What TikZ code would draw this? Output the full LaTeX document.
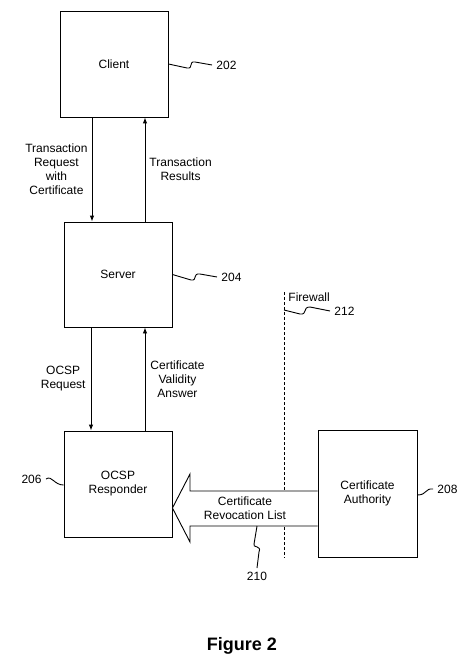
\documentclass[tikz,border=0pt]{standalone}
\usepackage{fontspec}
\setmainfont{Liberation Sans}
\usetikzlibrary{arrows.meta}
\begin{document}
\begin{tikzpicture}[x=1pt,y=-1pt,line width=.9pt,
    blk/.style={draw,rectangle,inner sep=0pt,align=center,
        font=\fontsize{12}{14}\selectfont},
    txt/.style={align=center,inner sep=0pt,
        font=\fontsize{12}{14}\selectfont},
    num/.style={txt,inner sep=4pt},
    flow/.style={-{Latex[length=6pt,width=4.5pt]}}]
    \useasboundingbox (0,0) rectangle (474,668);

    \node[blk,minimum width=108pt,minimum height=106pt] (client) at (114,64) {Client};
    \node[blk,minimum width=108pt,minimum height=105pt] (server) at (118,274.5) {Server};
    \node[blk,minimum width=108pt,minimum height=106pt] (ocsp) at (118,484) {OCSP\\Responder};
    \node[blk,minimum width=99pt,minimum height=127pt] (ca) at (367.5,493.5) {Certificate\\Authority};

    \draw[flow] ([xshift=-22pt]client.south) --
    node[txt,pos=.5,left=4pt]{Transaction\\Request\\with\\Certificate}
    ([xshift=-22pt]client.south |- server.north);
    \draw[flow] ([xshift=27pt]server.north) --
    node[txt,pos=.5,right=4pt]{Transaction\\Results}
    ([xshift=27pt]server.north |- client.south);
    \draw[flow] ([xshift=-27pt]server.south) --
    node[txt,pos=.5,left=5pt]{OCSP\\Request}
    ([xshift=-27pt]server.south |- ocsp.north);
    \draw[flow] ([xshift=27pt]ocsp.north) --
    node[txt,pos=.5,right=5pt]{Certificate\\Validity\\Answer}
    ([xshift=27pt]ocsp.north |- server.south);

    % firewall
    \coordinate (fwtop) at (284,292);
    \coordinate (fwbot) at (284,558);
    \draw[line width=.7pt,dash pattern=on 3pt off 2pt] (fwtop) -- (fwbot);
    \node[txt,anchor=west] (fw) at (288,297) {Firewall};

    % revocation list arrow
    \draw[fill=white] (ca.west |- 0,491) -- (190,491) -- (190,474) --
    (ocsp.east |- 0,508) -- (190,542) -- (190,526) -- (ca.west |- 0,526);
    \node[txt] (crl) at (245,508) {Certificate\\Revocation List};

    % reference numerals
    \node[num,anchor=west] (n202) at (212,65) {202};
    \node[num,anchor=west] (n204) at (217,277) {204};
    \node[num,anchor=west] (n212) at (330,311) {212};
    \node[num,anchor=east] (n206) at (46,479) {206};
    \node[num,anchor=west] (n208) at (433,489) {208};
    \node[num,anchor=north] (n210) at (257,568) {210};

    \draw (client.east) -- (187,68) .. controls (194,69) and (188,61) .. (195,62) -- (n202.west);
    \draw (server.east) -- (191,280) .. controls (198,281) and (192,273) .. (200,274) -- (n204.west);
    \draw (284,310) -- (300,314) .. controls (308,315) and (302,307) .. (310,307) -- (n212.west);
    \draw (n206.east) .. controls (52,475) and (54,485) .. (ocsp.west |- 0,485);
    \draw (ca.east |- 0,495) .. controls (427,495) and (425,488) .. (n208.west);
    \draw (257,526) -- (254,544) .. controls (252,548) and (262,545) .. (259,552) -- (n210.north);

    \node[font=\fontsize{18}{20}\bfseries\selectfont] (fig) at (242,646) {Figure 2};
\end{tikzpicture}
\end{document}
